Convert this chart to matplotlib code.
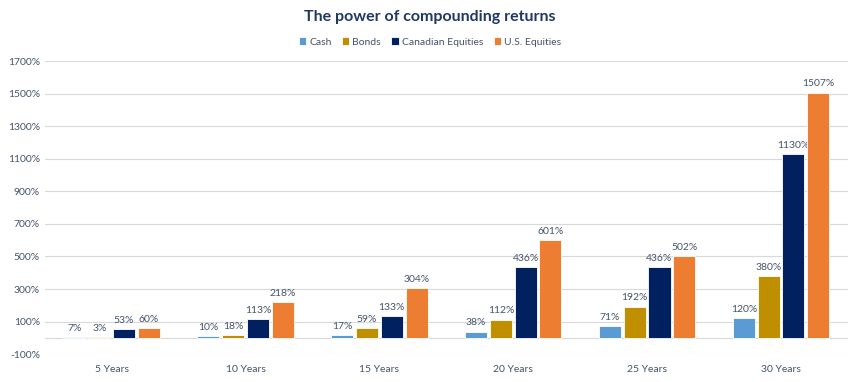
import numpy as np
from matplotlib import pyplot as plt

plt.rcParams['font.family'] = ['Lato', 'DejaVu Sans']

categories = ["5 Years", "10 Years", "15 Years", "20 Years", "25 Years", "30 Years"]
series = ["Cash", "Bonds", "Canadian Equities", "U.S. Equities"]
cash = [7, 10, 17, 38, 71, 120]
bonds = [3, 18, 59, 112, 192, 380]
canadian = [53, 113, 133, 436, 436, 1130]
us = [60, 218, 304, 601, 502, 1507]
yticks = [-100, 100, 300, 500, 700, 900, 1100, 1300, 1500, 1700]

colors = ['#5B9BD5', '#BF8F00', '#002060', '#ED7D31']
text_color = '#44546A'

fig = plt.figure(figsize=(8.6, 3.82), dpi=100)
ax = fig.add_axes([0.052, 0.073, 0.934, 0.767])

x = np.arange(len(categories))
w = 0.165
step = 0.185
for i, (name, vals) in enumerate(zip(series, [cash, bonds, canadian, us])):
    pos = x + (i - 1.5) * step
    bars = ax.bar(pos, vals, w, color=colors[i], label=name,
                  edgecolor='white', linewidth=0.6, zorder=3)
    for b, v in zip(bars, vals):
        ax.annotate(f"{v}%", xy=(b.get_x() + b.get_width() / 2, v),
                    xytext=(0, 3), textcoords='offset points',
                    ha='center', va='bottom', fontsize=7.5, color=text_color)

ax.set_xlim(-0.5, len(categories) - 0.5)
ax.set_ylim(-100, 1700)
ax.set_yticks(yticks)
ax.set_yticklabels([f"{t}%" for t in yticks])
ax.set_xticks(x)
ax.set_xticklabels(categories)
ax.tick_params(axis='both', length=0, labelsize=7.5, labelcolor=text_color)
ax.tick_params(axis='x', pad=8)
ax.grid(axis='y', color='#D9D9D9', linewidth=0.8, zorder=0)
ax.axhline(0, color='#D9D9D9', linewidth=0.8, zorder=1)
for s in ax.spines.values():
    s.set_visible(False)

fig.text(0.5, 0.955, "The power of compounding returns", ha='center', va='center',
         fontsize=11.5, fontweight='bold', color='#1F3864')
fig.legend(loc='center', bbox_to_anchor=(0.5, 0.89), ncol=4, frameon=False,
           fontsize=7.5, handlelength=0.7, handleheight=0.7, handletextpad=0.3,
           columnspacing=1.0, labelcolor=text_color)

fig.savefig('out.png', dpi=100)
